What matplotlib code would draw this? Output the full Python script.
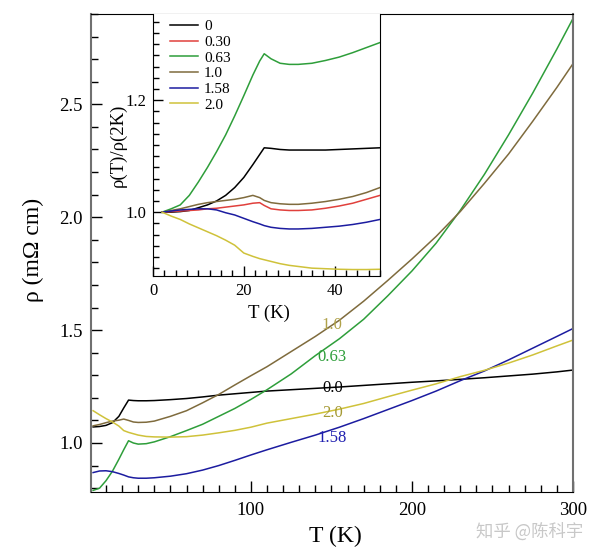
import matplotlib
matplotlib.use('Agg')
import matplotlib.pyplot as plt
from matplotlib.ticker import MultipleLocator, FixedLocator

plt.rcParams['font.family'] = ['Liberation Serif', 'DejaVu Serif']

# Main panel: resistivity vs temperature (mOhm cm)
T_main = [2, 6, 10, 14, 18, 21, 24, 27, 30, 35, 40, 50, 60, 70, 80, 90, 100,
          110, 125, 140, 155, 170, 185, 200, 215, 230, 245, 260, 275, 290, 300]
rho_00 = [1.071, 1.073, 1.078, 1.090, 1.118, 1.155, 1.190, 1.188, 1.187,
          1.187, 1.188, 1.192, 1.197, 1.204, 1.212, 1.218, 1.224, 1.230,
          1.236, 1.242, 1.248, 1.255, 1.262, 1.269, 1.275, 1.282, 1.289,
          1.297, 1.305, 1.315, 1.323]
rho_063 = [0.790, 0.800, 0.833, 0.875, 0.928, 0.970, 1.010, 1.000, 0.995,
           0.997, 1.005, 1.028, 1.055, 1.083, 1.118, 1.153, 1.193, 1.236,
           1.306, 1.387, 1.462, 1.548, 1.652, 1.762, 1.885, 2.030, 2.190,
           2.365, 2.550, 2.745, 2.880]
rho_10 = [1.076, 1.082, 1.090, 1.097, 1.101, 1.106, 1.100, 1.093, 1.091,
          1.092, 1.097, 1.118, 1.143, 1.178, 1.215, 1.257, 1.298, 1.338,
          1.405, 1.472, 1.544, 1.628, 1.720, 1.815, 1.915, 2.025, 2.150,
          2.280, 2.425, 2.575, 2.680]
rho_158 = [0.869, 0.876, 0.877, 0.873, 0.865, 0.858, 0.850, 0.846, 0.844,
           0.844, 0.846, 0.853, 0.864, 0.880, 0.900, 0.923, 0.947, 0.970,
           1.003, 1.035, 1.070, 1.108, 1.148, 1.188, 1.230, 1.276, 1.319,
           1.368, 1.420, 1.472, 1.507]
rho_20 = [1.143, 1.125, 1.108, 1.093, 1.075, 1.055, 1.047, 1.041, 1.035,
          1.029, 1.027, 1.026, 1.028, 1.035, 1.045, 1.056, 1.070, 1.088,
          1.108, 1.128, 1.150, 1.175, 1.205, 1.234, 1.262, 1.294, 1.322,
          1.354, 1.390, 1.430, 1.456]

# Inset: rho(T)/rho(2K)
T_in = [2, 4, 6, 8, 10, 12, 14, 16, 18, 20, 22, 23.5, 24.5, 26, 28, 30, 32,
        35, 38, 41, 44, 47, 50]
n_0 = [1.000, 1.000, 1.001, 1.003, 1.008, 1.013, 1.020, 1.030, 1.044, 1.062,
       1.085, 1.103, 1.115, 1.114, 1.112, 1.111, 1.111, 1.111, 1.111, 1.112,
       1.113, 1.114, 1.115]
n_030 = [1.000, 1.001, 1.002, 1.003, 1.004, 1.006, 1.007, 1.009, 1.011,
         1.013, 1.016, 1.017, 1.012, 1.006, 1.004, 1.003, 1.003, 1.004,
         1.007, 1.011, 1.016, 1.023, 1.030]
n_063 = [1.000, 1.006, 1.013, 1.030, 1.054, 1.080, 1.108, 1.138, 1.172,
         1.208, 1.245, 1.270, 1.283, 1.274, 1.266, 1.264, 1.264, 1.266,
         1.271, 1.277, 1.285, 1.294, 1.303]
n_10 = [1.000, 1.003, 1.006, 1.010, 1.014, 1.017, 1.019, 1.021, 1.023, 1.026,
        1.030, 1.026, 1.021, 1.017, 1.015, 1.014, 1.014, 1.016, 1.019, 1.023,
        1.028, 1.035, 1.044]
n_158 = [1.000, 1.002, 1.004, 1.005, 1.006, 1.006, 1.004, 0.999, 0.995,
         0.989, 0.983, 0.979, 0.976, 0.973, 0.971, 0.970, 0.970, 0.971,
         0.973, 0.975, 0.978, 0.982, 0.987]
n_20 = [1.000, 0.993, 0.987, 0.979, 0.972, 0.965, 0.958, 0.950, 0.941, 0.927,
        0.921, 0.917, 0.915, 0.912, 0.908, 0.905, 0.903, 0.900, 0.899, 0.898,
        0.8975, 0.8975, 0.898]

legend_labels = ['0', '0.30', '0.63', '1.0', '1.58', '2.0']
curve_labels = ['1.0', '0.63', '0.0', '2.0', '1.58']
label_T = 150.5
label_rho = [1.522, 1.381, 1.243, 1.133, 1.022]

c_black = '#000000'
c_red = '#e0403c'
c_green = '#2e9e3a'
c_brown = '#7f6b3d'
c_blue = '#1c1ca0'
c_yellow = '#cfc23a'
label_colors = ['#b0a24a', c_green, c_black, '#a59a35', '#2020b0']


def style_axis(ax, size):
    ax.tick_params(which='both', direction='in', top=False, right=False,
                   labelsize=size)


fig = plt.figure(figsize=(6.0, 5.58), dpi=100)

# main axes
ax = fig.add_axes([0.1517, 0.1183, 0.8033, 0.8566])
lw = 1.1
ax.plot(T_main, rho_00, color=c_black, lw=lw)
ax.plot(T_main, rho_063, color=c_green, lw=lw)
ax.plot(T_main, rho_10, color=c_brown, lw=lw)
ax.plot(T_main, rho_158, color=c_blue, lw=lw)
ax.plot(T_main, rho_20, color=c_yellow, lw=lw)
ax.set_xlim(0.7, 300)
ax.set_ylim(0.783, 2.90)
ax.xaxis.set_major_locator(FixedLocator([100, 200, 300]))
ax.xaxis.set_minor_locator(MultipleLocator(10))
ax.yaxis.set_major_locator(MultipleLocator(0.5))
ax.yaxis.set_minor_locator(MultipleLocator(0.1))
ax.yaxis.set_major_formatter(plt.FormatStrFormatter('%.1f'))
style_axis(ax, 13.5)
ax.tick_params(which='major', length=8, width=1.0)
ax.tick_params(which='minor', length=5, width=1.0)
ax.tick_params(axis='y', pad=6)
ax.tick_params(axis='x', pad=7)
for side in ['left', 'right']:
    ax.spines[side].set_color('#707070')
    ax.spines[side].set_linewidth(1.5)
ax.set_xlabel('T (K)', fontsize=17, va='center')
ax.xaxis.set_label_coords(0.506, -0.094)
ax.set_ylabel('ρ (mΩ cm)', fontsize=17, va='center')
ax.yaxis.set_label_coords(-0.12, 0.506)

for txt, y, col in zip(curve_labels, label_rho, label_colors):
    ax.text(label_T, y, txt, color=col, fontsize=12, ha='center',
            va='center')

# inset axes
axi = fig.add_axes([0.255, 0.5054, 0.3783, 0.4695])
axi.plot(T_in, n_0, color=c_black, lw=lw, label=legend_labels[0])
axi.plot(T_in, n_030, color=c_red, lw=lw, label=legend_labels[1])
axi.plot(T_in, n_063, color=c_green, lw=lw, label=legend_labels[2])
axi.plot(T_in, n_10, color=c_brown, lw=lw, label=legend_labels[3])
axi.plot(T_in, n_158, color=c_blue, lw=lw, label=legend_labels[4])
axi.plot(T_in, n_20, color=c_yellow, lw=lw, label=legend_labels[5])
axi.set_xlim(0, 50)
axi.set_ylim(0.886, 1.354)
axi.xaxis.set_major_locator(MultipleLocator(20))
axi.xaxis.set_minor_locator(MultipleLocator(2.5))
axi.yaxis.set_major_locator(MultipleLocator(0.2))
axi.yaxis.set_minor_locator(MultipleLocator(0.02))
axi.yaxis.set_major_formatter(plt.FormatStrFormatter('%.1f'))
style_axis(axi, 12)
axi.tick_params(which='major', length=7, width=1.0, pad=5)
axi.tick_params(which='minor', length=4, width=1.0)
axi.spines['top'].set_visible(False)
axi.set_xlabel('T (K)', fontsize=13.5, va='center')
axi.xaxis.set_label_coords(0.511, -0.141)
axi.set_ylabel('ρ(T)/ρ(2K)', fontsize=13.5, va='center')
axi.yaxis.set_label_coords(-0.154, 0.5)
axi.legend(loc='upper left', bbox_to_anchor=(0.06, 0.99), frameon=False,
           fontsize=11, handlelength=1.85, handletextpad=0.4,
           labelspacing=0.13, borderaxespad=0, borderpad=0.2)

fig.text(0.883, 0.047, '知乎 @陈科宇', color='#c8c8c8', fontsize=12.5,
         ha='center', va='center',
         family=['Noto Sans CJK SC', 'DejaVu Sans'])

fig.savefig('out.png', dpi=100)
